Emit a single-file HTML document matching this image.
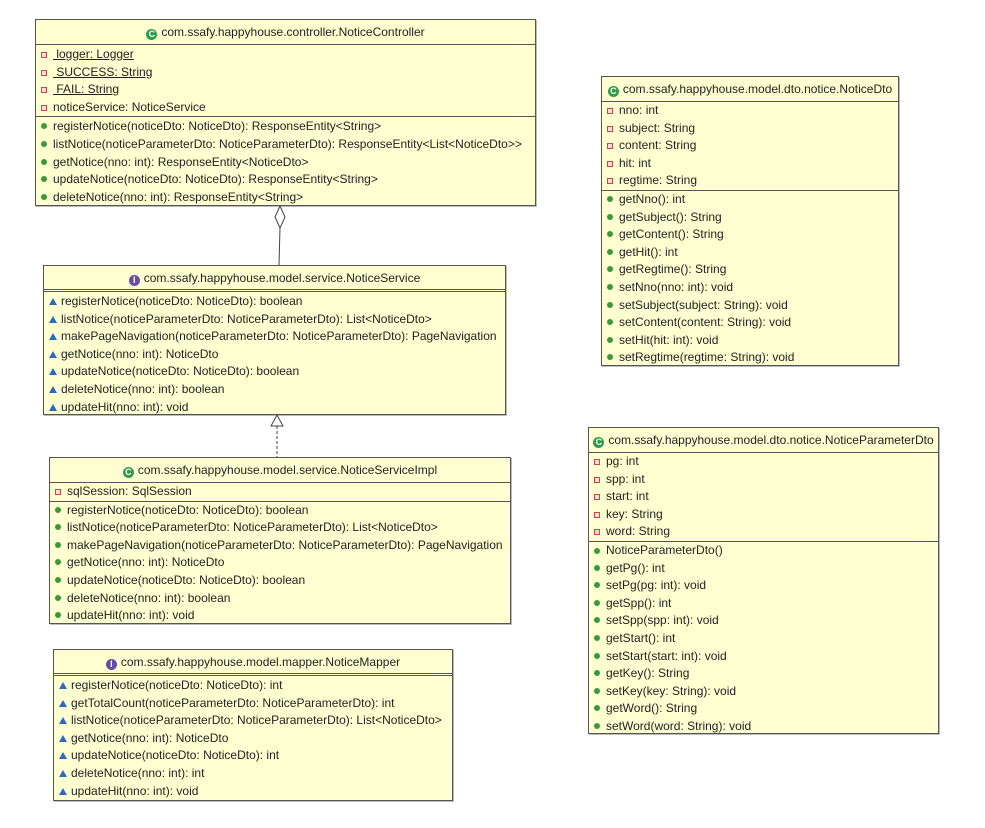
<!DOCTYPE html>
<html><head><meta charset="utf-8"><style>
body{margin:0;width:985px;height:828px;background:#fff;position:relative;font-family:"Liberation Sans",sans-serif;font-size:12px;color:#222;overflow:hidden}
.b{position:absolute;background:#ffffd2;border:1px solid #555;box-shadow:1px 1px 0 #bbb;box-sizing:border-box}
.h{height:24px;line-height:25px;text-align:center;border-bottom:1px solid #555;white-space:nowrap}
.s{border-top:1px solid #555;}
.d{border-bottom:3px double #555}
.r{height:17.6px;line-height:17.6px;white-space:nowrap;padding-left:17px;position:relative}
.r::before{content:"";position:absolute;left:5px;top:6px}
.p::before{width:4px;height:4px;border:1px solid #c44;background:#fdd}
.m::before{width:6px;height:6px;border-radius:50%;background:#3a9a3a;top:5px}
.a::before{width:0;height:0;border-left:4px solid transparent;border-right:4px solid transparent;border-bottom:7px solid #2a6ac0;top:5px;background:none}
.k::before{width:6px;height:6px;border-radius:50%;background:#3a9a3a;top:6px}
.u{text-decoration:underline}
.ic{display:inline-block;width:11px;height:11px;border-radius:50%;color:#fff;font-size:9px;line-height:11px;text-align:center;font-weight:bold;margin-right:4px;vertical-align:-1px}
.g{background:#2e9a4a}.v{background:#6a4aa8}
</style></head><body>

<div class="b" style="left:35px;top:19px;width:501px;height:187px">
<div class="h"><span class="ic g">C</span>com.ssafy.happyhouse.controller.NoticeController</div>
<div style="padding-top:1px">
<div class="r p"><span class="u">&nbsp;logger: Logger</span></div>
<div class="r p"><span class="u">&nbsp;SUCCESS: String</span></div>
<div class="r p"><span class="u">&nbsp;FAIL: String</span></div>
<div class="r p">noticeService: NoticeService</div></div>
<div class="s" style="padding-top:1px">
<div class="r m">registerNotice(noticeDto: NoticeDto): ResponseEntity&lt;String&gt;</div>
<div class="r m">listNotice(noticeParameterDto: NoticeParameterDto): ResponseEntity&lt;List&lt;NoticeDto&gt;&gt;</div>
<div class="r m">getNotice(nno: int): ResponseEntity&lt;NoticeDto&gt;</div>
<div class="r m">updateNotice(noticeDto: NoticeDto): ResponseEntity&lt;String&gt;</div>
<div class="r m">deleteNotice(nno: int): ResponseEntity&lt;String&gt;</div></div>
</div>

<div class="b" style="left:43px;top:265px;width:463px;height:150px">
<div class="h d" style="height:23px"><span class="ic v">I</span>com.ssafy.happyhouse.model.service.NoticeService</div>
<div style="padding-top:1px">
<div class="r a">registerNotice(noticeDto: NoticeDto): boolean</div>
<div class="r a">listNotice(noticeParameterDto: NoticeParameterDto): List&lt;NoticeDto&gt;</div>
<div class="r a">makePageNavigation(noticeParameterDto: NoticeParameterDto): PageNavigation</div>
<div class="r a">getNotice(nno: int): NoticeDto</div>
<div class="r a">updateNotice(noticeDto: NoticeDto): boolean</div>
<div class="r a">deleteNotice(nno: int): boolean</div>
<div class="r a">updateHit(nno: int): void</div></div>
</div>

<div class="b" style="left:49px;top:457px;width:462px;height:167px">
<div class="h"><span class="ic g">C</span>com.ssafy.happyhouse.model.service.NoticeServiceImpl</div>
<div><div class="r p">sqlSession: SqlSession</div></div>
<div class="s">
<div class="r m">registerNotice(noticeDto: NoticeDto): boolean</div>
<div class="r m">listNotice(noticeParameterDto: NoticeParameterDto): List&lt;NoticeDto&gt;</div>
<div class="r m">makePageNavigation(noticeParameterDto: NoticeParameterDto): PageNavigation</div>
<div class="r m">getNotice(nno: int): NoticeDto</div>
<div class="r m">updateNotice(noticeDto: NoticeDto): boolean</div>
<div class="r m">deleteNotice(nno: int): boolean</div>
<div class="r m">updateHit(nno: int): void</div></div>
</div>

<div class="b" style="left:53px;top:649px;width:400px;height:152px">
<div class="h d" style="height:23px"><span class="ic v">I</span>com.ssafy.happyhouse.model.mapper.NoticeMapper</div>
<div style="padding-top:1px">
<div class="r a">registerNotice(noticeDto: NoticeDto): int</div>
<div class="r a">getTotalCount(noticeParameterDto: NoticeParameterDto): int</div>
<div class="r a">listNotice(noticeParameterDto: NoticeParameterDto): List&lt;NoticeDto&gt;</div>
<div class="r a">getNotice(nno: int): NoticeDto</div>
<div class="r a">updateNotice(noticeDto: NoticeDto): int</div>
<div class="r a">deleteNotice(nno: int): int</div>
<div class="r a">updateHit(nno: int): void</div></div>
</div>

<div class="b" style="left:601px;top:76px;width:298px;height:290px">
<div class="h"><span class="ic g">C</span>com.ssafy.happyhouse.model.dto.notice.NoticeDto</div>
<div>
<div class="r p">nno: int</div><div class="r p">subject: String</div><div class="r p">content: String</div><div class="r p">hit: int</div><div class="r p">regtime: String</div></div>
<div class="s">
<div class="r m">getNno(): int</div><div class="r m">getSubject(): String</div><div class="r m">getContent(): String</div><div class="r m">getHit(): int</div><div class="r m">getRegtime(): String</div><div class="r m">setNno(nno: int): void</div><div class="r m">setSubject(subject: String): void</div><div class="r m">setContent(content: String): void</div><div class="r m">setHit(hit: int): void</div><div class="r m">setRegtime(regtime: String): void</div></div>
</div>

<div class="b" style="left:588px;top:427px;width:351px;height:307px">
<div class="h"><span class="ic g">C</span>com.ssafy.happyhouse.model.dto.notice.NoticeParameterDto</div>
<div>
<div class="r p">pg: int</div><div class="r p">spp: int</div><div class="r p">start: int</div><div class="r p">key: String</div><div class="r p">word: String</div></div>
<div class="s">
<div class="r k">NoticeParameterDto()</div><div class="r m">getPg(): int</div><div class="r m">setPg(pg: int): void</div><div class="r m">getSpp(): int</div><div class="r m">setSpp(spp: int): void</div><div class="r m">getStart(): int</div><div class="r m">setStart(start: int): void</div><div class="r m">getKey(): String</div><div class="r m">setKey(key: String): void</div><div class="r m">getWord(): String</div><div class="r m">setWord(word: String): void</div></div>
</div>

<svg width="985" height="828" style="position:absolute;left:0;top:0" fill="none" stroke="#444">
<path d="M280 206 L285 217 L280 228 L275 217 Z" fill="#fff"/>
<path d="M280 228 L279 265"/>
<path d="M277 415 L283 426 L271 426 Z" fill="#fff"/>
<path d="M277 426 L277 457" stroke-dasharray="3,2"/>
</svg>
</body></html>
